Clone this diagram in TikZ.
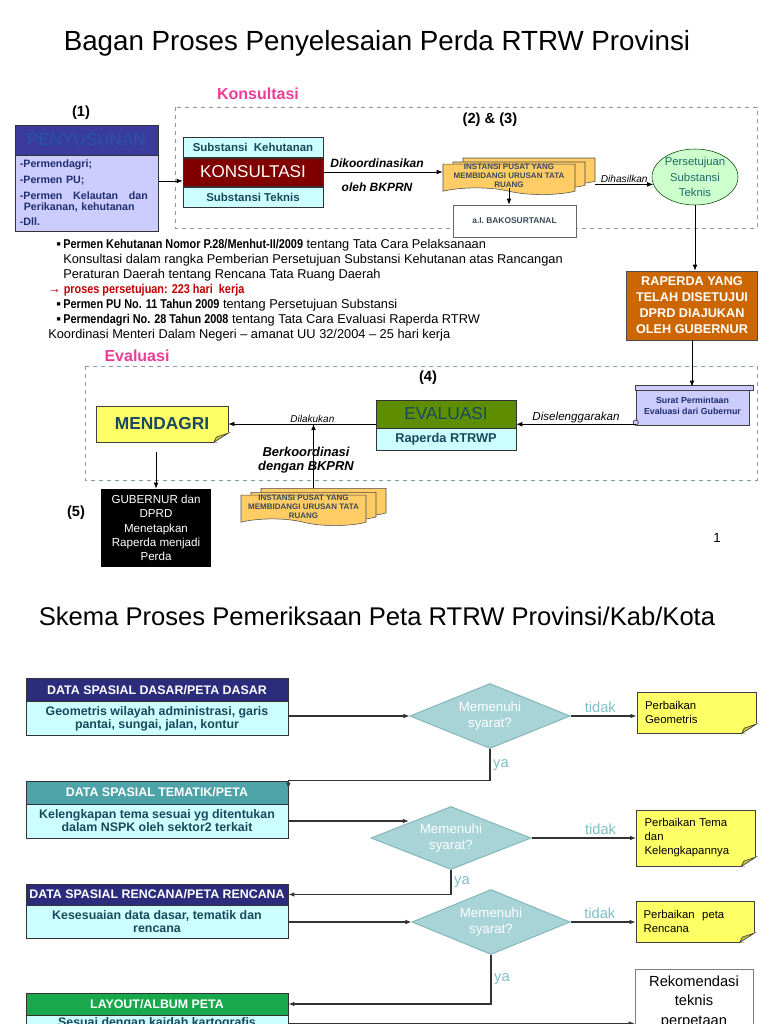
\documentclass[tikz,border=0pt]{standalone}
\usepackage{fontspec}
\setmainfont{Liberation Sans}
\newfontfamily\narrowfont[FakeStretch=0.85]{Liberation Sans}
\usetikzlibrary{arrows.meta,shapes.geometric,shapes.symbols}

\definecolor{pinklbl}{HTML}{EC3D97}
\definecolor{framegray}{HTML}{8A98A3}
\definecolor{penyhead}{HTML}{3B3B9E}
\definecolor{penytxt}{HTML}{2456A8}
\definecolor{lavender}{HTML}{CCCCFF}
\definecolor{navytxt}{HTML}{1F2F6E}
\definecolor{cyanfill}{HTML}{CCFFFF}
\definecolor{tealtxt}{HTML}{174A5C}
\definecolor{konsred}{HTML}{800000}
\definecolor{instorange}{HTML}{FFCC66}
\definecolor{insttxt}{HTML}{3A4A5A}
\definecolor{mintfill}{HTML}{CCFFCC}
\definecolor{minttxt}{HTML}{1F6A6A}
\definecolor{raperdaor}{HTML}{CC6600}
\definecolor{evalgreen}{HTML}{5E8E00}
\definecolor{notey}{HTML}{FFFF66}
\definecolor{foldc}{HTML}{C8C83C}
\definecolor{redtxt}{HTML}{C00000}
\definecolor{navyhead}{HTML}{2C2C7C}
\definecolor{tealhead}{HTML}{4DA3A8}
\definecolor{greenhead}{HTML}{19A84C}
\definecolor{diafill}{HTML}{A8D4D8}
\definecolor{diadraw}{HTML}{86B8BC}
\definecolor{yatxt}{HTML}{7DBFC6}
\definecolor{linegray}{HTML}{333333}

\newcommand\bul{\hspace*{6pt}\makebox[5.25pt][l]{\fontsize{10}{8}\selectfont ▪}}
\newcommand\foldnote[1]{%
  \fill[white] ([xshift=-11pt]#1.south east) -- ([xshift=1pt,yshift=-1pt]#1.south east) -- ([xshift=1pt,yshift=8pt]#1.south east) -- cycle;
  \filldraw[fill=foldc, draw=black!75, line width=0.5pt] ([xshift=-11pt]#1.south east) -- ([yshift=7pt]#1.south east) -- ([xshift=-9pt,yshift=4pt]#1.south east) -- cycle;}

\tikzset{
  arr/.style={-{Latex[length=4.5pt,width=3.5pt]}, line width=0.6pt},
  flow/.style={-{Latex[length=4.5pt,width=3.5pt]}, line width=0.8pt, draw=linegray},
  frame/.style={draw=framegray, dashed, line width=0.6pt},
  tag/.style={font=\bfseries\fontsize{11}{13}\selectfont},
  sect/.style={font=\bfseries\fontsize{12}{14}\selectfont, text=pinklbl},
  lbl/.style={inner sep=1pt, font=\itshape\fontsize{7.6}{9}\selectfont},
  cbox/.style={draw=black!80, line width=0.6pt, fill=cyanfill, text=tealtxt, align=center, inner sep=0pt,
    font=\bfseries\fontsize{8.6}{10}\selectfont},
  instdoc/.style={tape, tape bend top=none, tape bend bottom=out and in, tape bend height=5pt,
    draw=black!70, fill=instorange, minimum width=99pt, minimum height=20pt, inner sep=0pt, align=center,
    text=insttxt, font=\bfseries\fontsize{6}{6.8}\selectfont},
  note/.style={draw=black!75, fill=notey, line width=0.6pt, inner sep=0pt},
  hdr/.style={draw=black!80, line width=0.6pt, text=white, inner sep=0pt, minimum width=196.5pt,
    font=\bfseries\fontsize{9.3}{11}\selectfont},
  dia/.style={diamond, aspect=2.5, draw=diadraw, fill=diafill, line width=0.8pt, inner sep=0pt, align=center,
    text=white, font=\fontsize{10}{12}\selectfont},
  yn/.style={text=yatxt, inner sep=2pt, font=\fontsize{11}{13}\selectfont},
  fixbox/.style={note, text width=77pt, align=left, font=\fontsize{8.5}{10.5}\selectfont},
}

\begin{document}
\begin{tikzpicture}[x=0.75pt,y=-0.75pt]
\useasboundingbox (0,0) rectangle (768,1024);

% ---- Bagan proses penyelesaian perda
\node[font=\fontsize{20.8}{25}\selectfont] (title1) at (377,43) {Bagan Proses Penyelesaian Perda RTRW Provinsi};
\node[sect] (konsLbl) at (258,94) {Konsultasi};
\draw[frame] (175,107) rectangle (757,228);
\node[tag] (no1) at (81,113) {(1)};
\node[tag] (no23) at (490,120) {(2) \& (3)};

\node[draw=black!80, fill=penyhead, text=penytxt, minimum width=107.25pt, minimum height=22.5pt, inner sep=0pt,
  font=\fontsize{12.8}{14}\selectfont] (penyHead) at (86.5,140) {PENYUSUNAN};
\node[draw=black!80, fill=lavender, text=navytxt, minimum width=107.25pt, minimum height=57pt, text width=100pt,
  align=left, inner sep=0pt, font=\bfseries\fontsize{8}{8.2}\selectfont] (penyBody) at (86.5,193)
  {-Permendagri;\\[3.5pt]-Permen PU;\\[3.5pt]-Permen~~~Kelautan~~~dan\\\hspace*{3pt}Perikanan, kehutanan\\[3.5pt]-Dll.};

\node[cbox, minimum width=105pt, minimum height=15pt] (subKeh) at (253,147) {Substansi~~Kehutanan};
\node[draw=black!80, fill=konsred, text=white, minimum width=105pt, minimum height=21pt, inner sep=0pt,
  font=\fontsize{12.8}{14}\selectfont] (konsul) at (253,172) {KONSULTASI};
\node[cbox, minimum width=105pt, minimum height=15pt] (subTek) at (253,197) {Substansi Teknis};
\coordinate (kin) at ([yshift=4pt]konsul.south west);
\draw[arr] (penyBody.east |- kin) -- (kin);

\node[instdoc] (instC) at (529,168) {};
\node[instdoc] (instB) at (519,172) {};
\node[instdoc] (instA) at (509,176) {INSTANSI PUSAT YANG\\MEMBIDANGI URUSAN TATA\\RUANG};
\draw[arr] (konsul.east) -- node[lbl, above=2pt, pos=0.45, font=\bfseries\itshape\fontsize{9}{10}\selectfont] {Dikoordinasikan}
  node[lbl, below=7pt, pos=0.45, font=\bfseries\itshape\fontsize{9}{10}\selectfont] {oleh BKPRN} (konsul.east -| instA.west);

\node[draw=black!60, fill=white, minimum width=92.25pt, minimum height=24pt, inner sep=0pt, text=insttxt,
  font=\bfseries\fontsize{6.3}{7}\selectfont] (bakos) at (514.5,221) {a.I. BAKOSURTANAL};
\draw[arr] (instA.south) -- (instA.south |- bakos.north);

\node[ellipse, draw=green!25!black, fill=mintfill, text=minttxt, minimum width=64.5pt, minimum height=42pt,
  inner sep=-2pt, align=center, font=\fontsize{8.5}{11.5}\selectfont] (setuju) at (695,177) {Persetujuan\\Substansi\\Teknis};
\draw[arr] (instC.east |- setuju.190) -- node[lbl, above] {Dihasilkan} (setuju.190);

\node[draw=black!70, fill=raperdaor, text=white, minimum width=98.25pt, minimum height=51.75pt, inner sep=0pt,
  align=center, font=\bfseries\fontsize{9.5}{12}\selectfont] (raperda) at (692,305.5)
  {RAPERDA YANG\\TELAH DISETUJUI\\DPRD DIAJUKAN\\OLEH GUBERNUR};
\draw[arr] (setuju.south) -- (setuju.south |- raperda.north);

\node[anchor=north west, inner sep=0pt, align=left, font=\fontsize{9.6}{11.25}\selectfont] (aturan) at (48,239)
  {\bul{\narrowfont\bfseries Permen Kehutanan Nomor P.28/Menhut-II/2009} tentang Tata Cara Pelaksanaan\\
   \hspace*{11.25pt}Konsultasi dalam rangka Pemberian Persetujuan Substansi Kehutanan atas Rancangan\\
   \hspace*{11.25pt}Peraturan Daerah tentang Rencana Tata Ruang Daerah\\
   {\color{redtxt}\narrowfont\bfseries{\fontsize{11}{11}\selectfont →} proses persetujuan: 223 hari~~kerja}\\
   \bul{\narrowfont\bfseries Permen PU No. 11 Tahun 2009} tentang Persetujuan Substansi\\
   \bul{\narrowfont\bfseries Permendagri No. 28 Tahun 2008} tentang Tata Cara Evaluasi Raperda RTRW\\
   Koordinasi Menteri Dalam Negeri – amanat UU 32/2004 – 25 hari kerja};

\node[sect] (evalLbl) at (137,356) {Evaluasi};
\draw[frame] (85,366) rectangle (757,480);
\node[tag] (no4) at (428,378) {(4)};

\node[draw=black!75, fill=lavender, minimum width=84.75pt, minimum height=28.5pt, inner sep=0pt, align=center,
  text=navytxt, font=\bfseries\fontsize{6.6}{8.5}\selectfont] (surat) at (692.5,406) {Surat Permintaan\\Evaluasi dari Gubernur};
\draw[black!75, fill=lavender, line width=0.5pt] ([yshift=1pt]surat.north west) rectangle ([xshift=3pt,yshift=-2.5pt]surat.north east);
\draw[black!75, fill=lavender, line width=0.5pt] ([yshift=2pt]surat.south west) circle (2pt);
\draw[arr] (raperda.south) -- (raperda.south |- surat.north);

\node[draw=black!80, fill=evalgreen, text=tealtxt, minimum width=105pt, minimum height=21pt, inner sep=0pt,
  font=\fontsize{13}{14}\selectfont] (evalHead) at (446,414) {EVALUASI};
\node[cbox, minimum width=105pt, minimum height=16.5pt, font=\bfseries\fontsize{9.6}{11}\selectfont] (evalBody) at (446,439) {Raperda RTRWP};
\coordinate (sin) at ([yshift=3pt]evalHead.south east);
\draw[arr] (surat.south west |- sin) -- node[lbl, above, font=\itshape\fontsize{8.7}{10}\selectfont] {Diselenggarakan} (sin);

\node[note, minimum width=99pt, minimum height=27pt, text=tealtxt, font=\bfseries\fontsize{13}{14}\selectfont] (mendagri) at (162,424) {MENDAGRI};
\foldnote{mendagri}
\draw[arr] (evalHead.west |- mendagri.east) -- node[lbl, above, pos=0.43, font=\itshape\fontsize{7.5}{9}\selectfont] {Dilakukan} (mendagri.east);

\node[font=\bfseries\itshape\fontsize{9.7}{11}\selectfont, align=center, inner sep=0pt] (bkprn) at (306,460) {Berkoordinasi\\dengan BKPRN};
\node[instdoc, minimum width=93.75pt, minimum height=21pt] (instF) at (323.5,499) {};
\node[instdoc, minimum width=93.75pt, minimum height=21pt] (instE) at (313.5,503) {};
\node[instdoc, minimum width=93.75pt, minimum height=21pt] (instD) at (303.5,507) {INSTANSI PUSAT YANG\\MEMBIDANGI URUSAN TATA\\RUANG};
\draw[arr] (instE.north |- instF.north) -- (instE.north |- mendagri.east);

\node[fill=black, text=white, minimum width=82.5pt, minimum height=58.5pt, inner sep=0pt, align=center,
  font=\fontsize{8.7}{10.7}\selectfont] (gub) at (156,528) {GUBERNUR dan\\DPRD\\Menetapkan\\Raperda menjadi\\Perda};
\draw[arr, shorten <=7pt] (gub.north |- mendagri.south) -- (gub.north);
\node[tag] (no5) at (76,513) {(5)};
\node[font=\fontsize{10}{12}\selectfont] (hal) at (717,538) {1};

% ---- Skema pemeriksaan peta
\node[font=\fontsize{19.2}{23}\selectfont] (title2) at (377,616) {Skema Proses Pemeriksaan Peta RTRW Provinsi/Kab/Kota};

\node[hdr, fill=navyhead, minimum height=18pt] (hA) at (157,690) {DATA SPASIAL DASAR/PETA DASAR};
\node[cbox, minimum width=196.5pt, minimum height=25pt, font=\bfseries\fontsize{9.3}{9.8}\selectfont] (bA) at (157,718.5)
  {Geometris wilayah administrasi, garis\\pantai, sungai, jalan, kontur};
\node[hdr, fill=tealhead, minimum height=17.25pt] (hB) at (157,792.5) {DATA SPASIAL TEMATIK/PETA};
\node[cbox, minimum width=196.5pt, minimum height=25.5pt, font=\bfseries\fontsize{9.3}{9.8}\selectfont] (bB) at (157,821)
  {Kelengkapan tema sesuai yg ditentukan\\dalam NSPK oleh sektor2 terkait};
\node[hdr, fill=navyhead, minimum height=15.75pt] (hC) at (157,894.5) {DATA SPASIAL RENCANA/PETA RENCANA};
\node[cbox, minimum width=196.5pt, minimum height=24.75pt, font=\bfseries\fontsize{9.3}{9.8}\selectfont] (bC) at (157,921.5)
  {Kesesuaian data dasar, tematik dan\\rencana};
\node[hdr, fill=greenhead, minimum height=16.5pt] (hD) at (157,1004) {LAYOUT/ALBUM PETA};
\node[cbox, minimum width=196.5pt, minimum height=12.75pt, font=\bfseries\fontsize{9.3}{9.8}\selectfont] (bD) at (157,1023.5)
  {Sesuai dengan kaidah kartografis};

\node[dia, minimum width=120pt, minimum height=48.75pt] (d1) at (490,716) {Memenuhi\\syarat?};
\node[dia, minimum width=120pt, minimum height=47.25pt] (d2) at (451,838) {Memenuhi\\syarat?};
\node[dia, minimum width=118.5pt, minimum height=48.75pt] (d3) at (491,922) {Memenuhi\\syarat?};

\node[fixbox, minimum width=89.25pt, minimum height=30.75pt] (fix1) at (696.5,712.5) {Perbaikan\\Geometris};
\node[fixbox, minimum width=89.25pt, minimum height=42pt] (fix2) at (696,838) {Perbaikan Tema\\dan\\Kelengkapannya};
\node[fixbox, minimum width=88.5pt, minimum height=30.75pt] (fix3) at (695,921.5) {Perbaikan~~peta\\Rencana};
\foldnote{fix1}
\foldnote{fix2}
\foldnote{fix3}
\node[draw=black!50, fill=white, minimum width=88.5pt, minimum height=49.5pt, inner sep=0pt, align=center,
  font=\fontsize{11}{14.6}\selectfont] (reko) at (694,1002) {Rekomendasi\\teknis\\perpetaan};

\draw[flow] (d1.west -| bA.east) -- (d1.west);
\draw[flow] (d1.east) -- node[yn, above, pos=0.45] {tidak} (fix1.west |- d1.east);
\draw[flow] (d1.south) |- node[yn, right, pos=0.25] {ya} (hB.north east) -- ([yshift=-6pt]hB.north east);

\draw[flow, shorten >=7pt] (bB.east) -- (bB.east -| d2.150);
\draw[flow] (d2.east) -- node[yn, above, pos=0.66] {tidak} (fix2.west |- d2.east);
\draw[flow] (d2.south) |- node[yn, right, pos=0.25] {ya} (hC.east);

\draw[flow] (d3.west -| bC.east) -- (d3.west);
\draw[flow] (d3.east) -- node[yn, above, pos=0.45] {tidak} (fix3.west |- d3.east);
\draw[flow] (d3.south) |- node[yn, right, pos=0.25] {ya} (hD.east);

\draw[flow] (bD.east) -- (bD.east -| reko.west);
\end{tikzpicture}
\end{document}
